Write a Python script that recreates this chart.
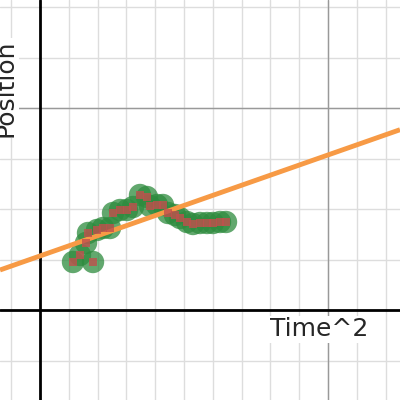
import numpy as np, pandas as pd, seaborn as sns, matplotlib.pyplot as plt

px = [73,80,86,88,93,97,103,110,113,120,127,133,140,147,150,157,163,168,175,180,187,193,200,207,213,220,226]
py = [262,255,243,233,262,230,228,228,213,210,210,207,195,197,206,205,205,213,215,218,222,224,223,223,223,222,222]
time2 = [(p-40)/57.6 for p in px]
position = [(310-p)/50.5 for p in py]
fit_intercept, fit_slope = 1.07, 0.40

df = pd.DataFrame({"t": time2, "pos": position})
sns.set_style("white")
fig = plt.figure(figsize=(4,4), dpi=100)
ax = fig.add_axes([0,0,1,1])
xmin, xmax = -40/57.6, 360/57.6
ymin, ymax = -90/50.5, 310/50.5
for v in np.arange(-0.5, 6.3, 0.5):
    ax.axvline(v, color='#dddddd', lw=1, zorder=0)
for v in np.arange(-1, 6.3, 1):
    ax.axhline(v, color='#dddddd', lw=1, zorder=0)
ax.axvline(5, color='#999999', lw=1, zorder=0)
ax.axhline(4, color='#999999', lw=1, zorder=0)
ax.axvline(0, color='black', lw=2, zorder=1)
ax.axhline(0, color='black', lw=2, zorder=1)
xs = np.array([xmin, xmax])
ax.plot(xs, fit_intercept + fit_slope*xs, color='#f79a45', lw=3.5, zorder=3, solid_capstyle='butt')
sns.scatterplot(data=df, x="t", y="pos", s=260, color='#2e8b3e', alpha=0.75, edgecolor='none', ax=ax, zorder=2)
sns.scatterplot(data=df, x="t", y="pos", s=30, marker='s', color='#c0504d', alpha=0.8, edgecolor='none', ax=ax, zorder=4)
ax.set_xlim(xmin, xmax); ax.set_ylim(ymin, ymax)
ax.set_xticks([]); ax.set_yticks([]); ax.set_xlabel(""); ax.set_ylabel("")
for s in ax.spines.values(): s.set_visible(False)
ax.text(4.0, -0.38, "Time^2", fontsize=18, ha='left', va='center', bbox=dict(facecolor='white', edgecolor='none', pad=1))
ax.text(-0.6, 4.4, "Position", fontsize=18, rotation=90, ha='center', va='center', bbox=dict(facecolor='white', edgecolor='none', pad=1))
fig.savefig("out.png", dpi=100)
